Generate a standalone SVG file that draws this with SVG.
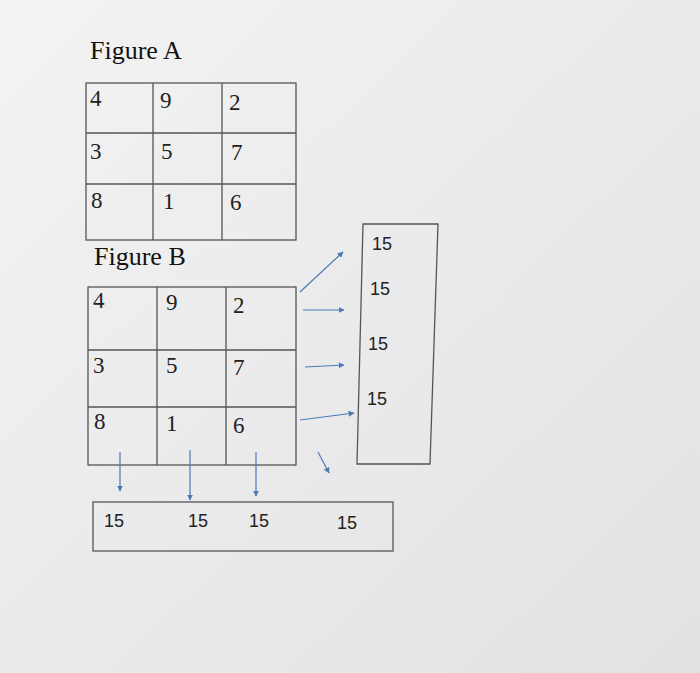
<svg xmlns="http://www.w3.org/2000/svg" width="700" height="673" viewBox="0 0 700 673">
<defs>
<linearGradient id="bg" x1="0" y1="0" x2="1" y2="1"><stop offset="0" stop-color="#f3f3f4"/><stop offset="1" stop-color="#e2e2e4"/></linearGradient>
<marker id="ah" viewBox="0 0 10 10" refX="9" refY="5" markerWidth="5" markerHeight="5" orient="auto"><path d="M0,0L10,5L0,10z" fill="#4a7ab5"/></marker>
<style>
.g{fill:none;stroke:#555;stroke-width:1.3}
.s{font-family:"Liberation Serif",serif;font-size:23px;fill:#222}
.t{font-family:"Liberation Serif",serif;font-size:26px;fill:#111}
.n{font-family:"Liberation Sans",sans-serif;font-size:18px;fill:#222}
.a{stroke:#4a7ab5;stroke-width:1.2;fill:none;marker-end:url(#ah)}
</style>
</defs>
<rect width="700" height="673" fill="url(#bg)"/>
<g id="figA">
<text class="t" x="90" y="59">Figure A</text>
<rect class="g" x="86" y="83" width="210" height="157"/>
<path class="g" d="M153,83V240M222,83V240M86,133H296M86,184H296"/>
<text class="s" x="90" y="106">4</text><text class="s" x="160" y="108">9</text><text class="s" x="229" y="110">2</text>
<text class="s" x="90" y="159">3</text><text class="s" x="161" y="159">5</text><text class="s" x="231" y="160">7</text>
<text class="s" x="91" y="208">8</text><text class="s" x="163" y="209">1</text><text class="s" x="230" y="210">6</text>
</g>
<g id="figB">
<text class="t" x="94" y="265">Figure B</text>
<rect class="g" x="88" y="287" width="208" height="178"/>
<path class="g" d="M157,287V465M226,287V465M88,350H296M88,407H296"/>
<text class="s" x="93" y="308">4</text><text class="s" x="166" y="310">9</text><text class="s" x="233" y="313">2</text>
<text class="s" x="93" y="373">3</text><text class="s" x="166" y="373">5</text><text class="s" x="233" y="375">7</text>
<text class="s" x="94" y="429">8</text><text class="s" x="166" y="431">1</text><text class="s" x="233" y="433">6</text>
</g>
<g id="colSums">
<path class="g" d="M363,224L438,224L430,464L357,464Z"/>
<text class="n" x="372" y="250">15</text><text class="n" x="370" y="295">15</text><text class="n" x="368" y="350">15</text><text class="n" x="367" y="405">15</text>
</g>
<g id="rowSums">
<rect class="g" x="93" y="502" width="300" height="49"/>
<text class="n" x="104" y="527">15</text><text class="n" x="188" y="527">15</text><text class="n" x="249" y="527">15</text><text class="n" x="337" y="529">15</text>
</g>
<g id="connectors">
<line class="a" x1="300" y1="292" x2="343" y2="252"/>
<line class="a" x1="303" y1="310" x2="344" y2="310"/>
<line class="a" x1="305" y1="367" x2="344" y2="365"/>
<line class="a" x1="300" y1="420" x2="354" y2="413"/>
<line class="a" x1="318" y1="452" x2="329" y2="473"/>
<line class="a" x1="120" y1="452" x2="120" y2="491"/>
<line class="a" x1="190" y1="450" x2="190" y2="500"/>
<line class="a" x1="256" y1="452" x2="256" y2="496"/>
</g>
</svg>
